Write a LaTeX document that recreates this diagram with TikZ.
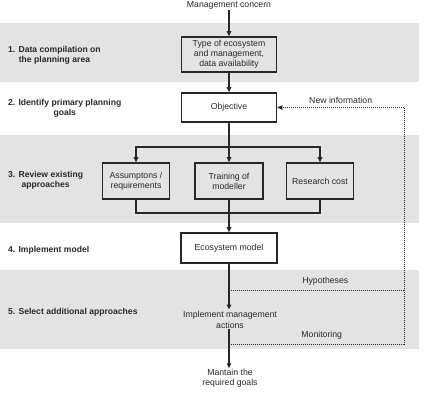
\documentclass[tikz,border=0pt]{standalone}
\usepackage{fontspec}
\setmainfont{Liberation Sans}
\usetikzlibrary{arrows.meta}
\definecolor{band}{RGB}{227,227,227}
\definecolor{ink}{RGB}{40,40,40}
\begin{document}
\begin{tikzpicture}[x=1pt,y=-1pt,
  every node/.style={text=ink,font=\fontsize{8.7}{9.8}\selectfont},
  boxnode/.style={draw=ink,line width=1.7pt,minimum height=30pt,align=center,inner sep=2pt},
  stagelabel/.style={anchor=west,inner sep=0pt,align=center,font=\bfseries\fontsize{8.6}{10.2}\selectfont},
  plain/.style={align=center,inner sep=1pt},
  conn/.style={draw=ink,line width=1.2pt},
  arr/.style={conn,-{Triangle[length=5pt,width=4.5pt]}},
  dashline/.style={draw=ink,line width=0.9pt,dash pattern=on 1pt off 1pt},
  dasharr/.style={dashline,-{Triangle[length=5pt,width=4.5pt]}}
]
\useasboundingbox (0,0) rectangle (431,402);
% bands
\fill[band] (0,23) rectangle (419,82);
\fill[band] (0,135) rectangle (419,223);
\fill[band] (0,270) rectangle (419,349);

% stage labels
\node[stagelabel] (l1) at (8,55) {1. Data compilation on\\the planning area};
\node[stagelabel] (l2) at (8,108) {2. Identify primary planning\\goals};
\node[stagelabel] (l3) at (8,180.5) {3. Review existing\\approaches};
\node[stagelabel] (l4) at (8,250) {4. Implement model};
\node[stagelabel] (l5) at (8,312) {5. Select additional approaches};

% nodes
\node[plain] (mc) at (229,5) {Management concern};
\node[boxnode,minimum width=95pt,minimum height=35pt] (b1) at (229,54.5) {Type of ecosystem\\and management,\\data availability};
\node[boxnode,minimum width=95pt,minimum height=29pt] (obj) at (229,107.5) {Objective};
\node[boxnode,minimum width=67pt,minimum height=36pt] (ass) at (136,181) {Assumptons /\\requirements};
\node[boxnode,minimum width=68pt,minimum height=36pt] (tra) at (229,181) {Training of\\modeller};
\node[boxnode,minimum width=67pt,minimum height=36pt] (res) at (320,181) {Research cost};
\node[boxnode,minimum width=96pt,minimum height=30pt] (eco) at (229,248) {Ecosystem model};
\node[plain,font=\fontsize{8.7}{11}\selectfont] (imp) at (230,319.5) {Implement management\\actions};
\node[plain,font=\fontsize{8.7}{9.8}\selectfont] (goal) at (230,378.5) {Mantain the\\required goals};

% coordinates
\coordinate (br) at (229,147);
\coordinate (jn) at (229,213);
\coordinate (hy) at (229,290);
\coordinate (hyR) at (404,290);
\coordinate (mo) at (229,344);
\coordinate (moR) at (404,344);
\coordinate (nr) at (404,107.5);

% connectors
\draw[arr] (mc) -- (b1);
\draw[arr] (b1) -- (obj);
\draw[arr] (obj) -- (tra);
\draw[arr] (br) -| (ass.north);
\draw[arr] (br) -| (res.north);
\draw[conn] (ass.south) |- (jn) -| (res.south);
\draw[arr] (tra) -- (eco);
\draw[arr] (eco.south) -- (imp.north -| eco.south);
\draw[arr] (imp.south -| eco.south) -- (goal.north -| eco.south);

% dashed feedback
\draw[dashline] (hy) -- node[above=1pt,pos=0.55] (hyl) {Hypotheses} (hyR);
\draw[dasharr] (mo) -- node[above=1pt,pos=0.53] (mol) {Monitoring} (moR) -- (nr) -- node[above=0.5pt,pos=0.5] (nil) {New information} (obj.east);
\end{tikzpicture}
\end{document}
